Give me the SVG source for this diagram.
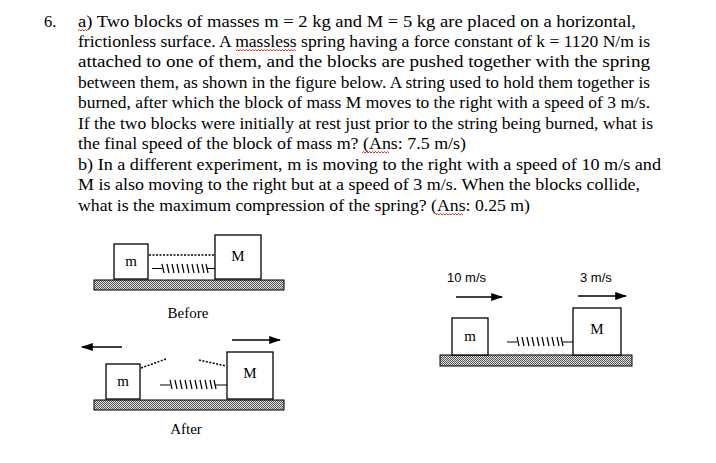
<svg xmlns="http://www.w3.org/2000/svg" width="716" height="463" viewBox="0 0 716 463">
<defs>
<pattern id="chk" width="2" height="2" patternUnits="userSpaceOnUse"><rect width="2" height="2" fill="#e0e0e0"/><rect width="1" height="1" fill="#555"/><rect x="1" y="1" width="1" height="1" fill="#555"/></pattern>
<marker id="ah" viewBox="0 0 10 10" refX="9" refY="5" markerWidth="12" markerHeight="8" markerUnits="userSpaceOnUse" orient="auto" preserveAspectRatio="none"><path d="M0,0L10,5L0,10z" fill="#000"/></marker>
<marker id="ahs" viewBox="0 0 10 10" refX="1" refY="5" markerWidth="12" markerHeight="8" markerUnits="userSpaceOnUse" orient="auto" preserveAspectRatio="none"><path d="M10,0L0,5L10,10z" fill="#000"/></marker>
</defs>
<style>
.t{font-family:"Liberation Serif","DejaVu Serif",serif;font-size:16.5px;fill:#000}
.l{font-family:"Liberation Serif","DejaVu Serif",serif;font-size:15px;fill:#000}
.s{font-family:"Liberation Sans",Arial,sans-serif;font-size:13px;fill:#000}
.box{fill:#fff;stroke:#000;stroke-width:1.3}
.gr{fill:url(#chk);stroke:#000;stroke-width:1}
.ln{stroke:#000;stroke-width:1.2;fill:none}
.ds{stroke:#000;stroke-width:1.5;stroke-dasharray:2,1.5;fill:none}
.wv{stroke:#d00;stroke-width:0.8;fill:none}
.ar{stroke:#000;stroke-width:1.3;fill:none}
</style>
<rect width="716" height="463" fill="#fff"/>
<g id="text">
<text class="t" x="44" y="27">6.</text>
<text class="t" x="78" y="27" textLength="558" lengthAdjust="spacingAndGlyphs">a)  Two blocks of masses m = 2 kg and M = 5 kg are placed on a horizontal,</text>
<text class="t" x="78" y="47" textLength="572" lengthAdjust="spacingAndGlyphs">frictionless surface. A massless spring having a force constant of k = 1120 N/m is</text>
<text class="t" x="78" y="67" textLength="572" lengthAdjust="spacingAndGlyphs">attached to one of them, and the blocks are pushed together with the spring</text>
<text class="t" x="78" y="88" textLength="572" lengthAdjust="spacingAndGlyphs">between them, as shown in the figure below. A string used to hold them together is</text>
<text class="t" x="78" y="108" textLength="572" lengthAdjust="spacingAndGlyphs">burned, after which the block of mass M moves to the right with a speed of 3 m/s.</text>
<text class="t" x="78" y="129" textLength="575" lengthAdjust="spacingAndGlyphs">If the two blocks were initially at rest just prior to the string being burned, what is</text>
<text class="t" x="78" y="149" textLength="388" lengthAdjust="spacingAndGlyphs">the final speed of the block of mass m? (Ans: 7.5 m/s)</text>
<text class="t" x="78" y="170" textLength="583" lengthAdjust="spacingAndGlyphs">b)   In a different experiment, m is moving to the right with a speed of 10 m/s and</text>
<text class="t" x="78" y="190" textLength="562" lengthAdjust="spacingAndGlyphs">M is also moving to the right but at a speed of 3 m/s.  When the blocks collide,</text>
<text class="t" x="78" y="211" textLength="452" lengthAdjust="spacingAndGlyphs">what is the maximum compression of the spring? (Ans: 0.25 m)</text>
<path class="wv" d="M78,31l1.5,-1.5l1.5,1.5l1.5,-1.5l1.5,1.5l1.5,-1.5l1.5,1.5"/>
<path class="wv" d="M236,51l1.5,-1.5l1.5,1.5l1.5,-1.5l1.5,1.5l1.5,-1.5l1.5,1.5l1.5,-1.5l1.5,1.5l1.5,-1.5l1.5,1.5l1.5,-1.5l1.5,1.5l1.5,-1.5l1.5,1.5l1.5,-1.5l1.5,1.5l1.5,-1.5l1.5,1.5l1.5,-1.5l1.5,1.5l1.5,-1.5l1.5,1.5l1.5,-1.5l1.5,1.5l1.5,-1.5l1.5,1.5l1.5,-1.5l1.5,1.5l1.5,-1.5l1.5,1.5l1.5,-1.5l1.5,1.5l1.5,-1.5l1.5,1.5l1.5,-1.5l1.5,1.5l1.5,-1.5l1.5,1.5l1.5,-1.5l1.5,1.5"/>
<path class="wv" d="M362,153l1.5,-1.5l1.5,1.5l1.5,-1.5l1.5,1.5l1.5,-1.5l1.5,1.5l1.5,-1.5l1.5,1.5l1.5,-1.5l1.5,1.5l1.5,-1.5l1.5,1.5l1.5,-1.5l1.5,1.5l1.5,-1.5l1.5,1.5l1.5,-1.5l1.5,1.5"/>
<path class="wv" d="M436,215l1.5,-1.5l1.5,1.5l1.5,-1.5l1.5,1.5l1.5,-1.5l1.5,1.5l1.5,-1.5l1.5,1.5l1.5,-1.5l1.5,1.5l1.5,-1.5l1.5,1.5l1.5,-1.5l1.5,1.5l1.5,-1.5l1.5,1.5l1.5,-1.5l1.5,1.5"/>
</g>
<g id="ground1"><rect class="gr" x="94" y="280" width="190" height="10"/></g>
<g id="ground2"><rect class="gr" x="94" y="400" width="190" height="10"/></g>
<g id="ground3"><rect class="gr" x="440" y="355" width="192" height="11"/></g>
<g id="before-m"><rect class="box" x="114" y="244" width="34" height="35"/><text class="l" x="131" y="266" text-anchor="middle">m</text></g>
<g id="before-M"><rect class="box" x="215" y="235" width="46" height="44"/><text class="l" x="238" y="261" text-anchor="middle">M</text></g>
<g id="after-m"><rect class="box" x="106" y="364" width="34" height="35"/><text class="l" x="123" y="386" text-anchor="middle">m</text></g>
<g id="after-M"><rect class="box" x="227" y="352" width="46" height="47"/><text class="l" x="250" y="378" text-anchor="middle">M</text></g>
<g id="right-m"><rect class="box" x="452" y="318" width="36" height="37"/><text class="l" x="470" y="341" text-anchor="middle">m</text></g>
<g id="right-M"><rect class="box" x="573" y="308" width="48" height="47"/><text class="l" x="597" y="334" text-anchor="middle">M</text></g>
<g id="labels">
<text class="l" x="188" y="318" text-anchor="middle">Before</text>
<text class="l" x="186" y="434" text-anchor="middle">After</text>
<text class="s" x="447" y="282">10 m/s</text>
<text class="s" x="580" y="282">3 m/s</text>
</g>
<g id="connectors">
<path class="ds" d="M149,255H215"/>
<path class="ln" d="M152,268.5H162M207,268.5H215"/>
<path class="ln" d="M162,264l2,9M167,264l2,9M172,264l2,9M177,264l2,9M182,264l2,9M187,264l2,9M192,264l2,9M197,264l2,9M202,264l2,9M206,264l2,9"/>
<path class="ds" d="M141,368L166,359"/>
<path class="ds" d="M199,360L226,366"/>
<path class="ln" d="M160,385H170M215,385H227"/>
<path class="ln" d="M170,380l2,9M175,380l2,9M180,380l2,9M185,380l2,9M190,380l2,9M195,380l2,9M200,380l2,9M205,380l2,9M210,380l2,9M214,380l2,9"/>
<path class="ln" d="M507,342H517M563,342H573"/>
<path class="ln" d="M517,337l2,9M522,337l2,9M527,337l2,9M532,337l2,9M537,337l2,9M542,337l2,9M547,337l2,9M552,337l2,9M557,337l2,9M561,337l2,9"/>
<path class="ar" d="M122,347H82" marker-end="url(#ah)"/>
<path class="ar" d="M232,340H280" marker-end="url(#ah)"/>
<path class="ar" d="M456,297H502" marker-end="url(#ah)"/>
<path class="ar" d="M578,296H626" marker-end="url(#ah)"/>
</g>
</svg>
